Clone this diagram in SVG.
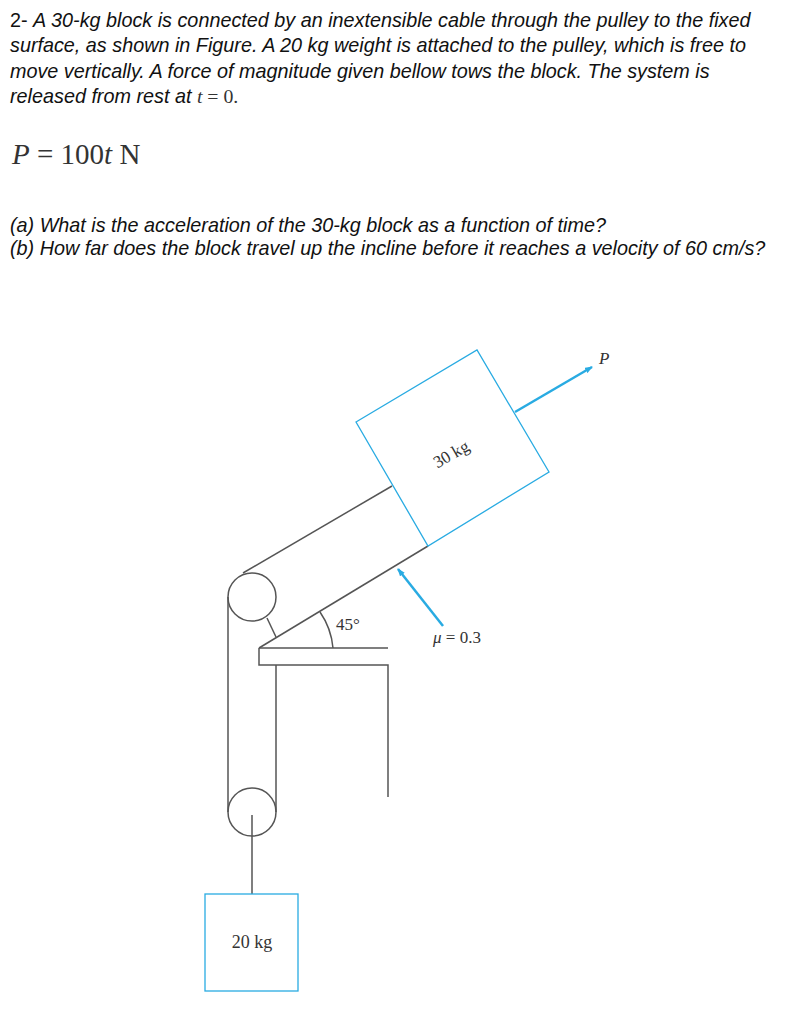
<svg xmlns="http://www.w3.org/2000/svg" width="796" height="1024" viewBox="0 0 796 1024">
<style>
.q{font-family:"Liberation Sans",Arial,sans-serif;font-size:19.8px;font-style:italic;fill:#111}
.m{font-family:"Liberation Serif","Times New Roman",serif;fill:#333}
.ln{stroke:#555;stroke-width:1.5;fill:none}
.bl{stroke:#29abe2;stroke-width:1.3;fill:#fff}
.ar{stroke:#29abe2;stroke-width:2.5;fill:none}
</style>
<defs><marker id="ah" markerWidth="8" markerHeight="6" refX="7" refY="3" orient="auto" markerUnits="userSpaceOnUse" viewBox="0 0 8 6"><path d="M0,0L8,3L0,6z" fill="#29abe2"/></marker></defs>
<rect width="796" height="1024" fill="#fff"/>
<g id="question">
<text class="q" x="10" y="27"><tspan font-style="normal">2- </tspan>A 30-kg block is connected by an inextensible cable through the pulley to the fixed</text>
<text class="q" x="10" y="52">surface, as shown in Figure. A 20 kg weight is attached to the pulley, which is free to</text>
<text class="q" x="10" y="78">move vertically. A force of magnitude given bellow tows the block. The system is</text>
<text class="q" x="10" y="103">released from rest at <tspan class="m" font-style="italic">t</tspan><tspan class="m" font-style="normal"> = 0.</tspan></text>
<text class="m" x="12" y="164" font-size="29"><tspan font-style="italic">P</tspan> = 100<tspan font-style="italic">t</tspan> N</text>
<text class="q" x="10" y="232">(a) What is the acceleration of the 30-kg block as a function of time?</text>
<text class="q" x="10" y="255">(b) How far does the block travel up the incline before it reaches a velocity of 60 cm/s?</text>
</g>
<g id="connectors">
<line class="ln" x1="392" y1="486" x2="243" y2="573"/>
<line class="ln" x1="428" y1="546" x2="259" y2="648"/>
<line class="ln" x1="228" y1="597" x2="228" y2="812"/>
<line class="ln" x1="276" y1="665" x2="276" y2="812"/>
<line class="ln" x1="267" y1="618" x2="276" y2="637"/>
<path class="ln" d="M320,612 A75,75 0 0 1 333,648"/>
<path class="ln" d="M259,648 H388 M259,648 V665 H388 V797"/>
<line class="ln" x1="252" y1="815" x2="252" y2="894"/>
<line class="ar" x1="515" y1="412" x2="592" y2="367" marker-end="url(#ah)"/>
<line class="ar" x1="443" y1="626" x2="398" y2="569" marker-end="url(#ah)"/>
</g>
<g id="pulley-top"><circle class="ln" cx="252" cy="597" r="24" fill="#fff"/></g>
<g id="pulley-bottom"><circle class="ln" cx="252" cy="812" r="24"/></g>
<g id="block30">
<polygon class="bl" points="356,422 477,350 549,472 428,546"/>
<text class="m" font-size="17" transform="translate(454,459) rotate(-30)" text-anchor="middle">30 kg</text>
</g>
<g id="block20">
<rect class="bl" x="205" y="894" width="93" height="97"/>
<text class="m" font-size="18" x="252" y="948" text-anchor="middle">20 kg</text>
</g>
<g id="labels">
<text class="m" font-size="17" font-style="italic" x="599" y="364">P</text>
<text class="m" font-size="17" x="336" y="630">45°</text>
<text class="m" font-size="17" x="433" y="643"><tspan font-style="italic">μ</tspan> = 0.3</text>
</g>
</svg>
